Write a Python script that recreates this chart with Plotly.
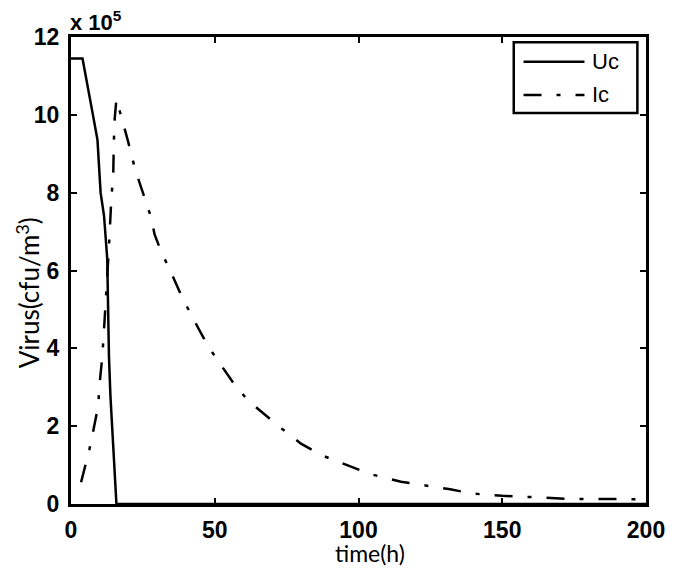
import plotly.graph_objects as go

# values, virus in units of 1e5 cfu/m^3
uc_t = [0, 4, 7.5, 9.2, 10.3, 11.5, 12.6, 13.2, 13.7, 15.1, 15.8, 16.5, 50, 100, 150, 200]
uc_v = [11.45, 11.45, 10.05, 9.36, 8.0, 7.4, 6.3, 3.8, 2.8, 0.7, 0.0, 0.0, 0.0, 0.0, 0.0, 0.0]

ic_t = [3.5, 6.4, 7.8, 9.4, 10.1, 10.9, 11.5, 12.0, 12.8, 13.2, 14.0, 14.7, 14.9, 15.2, 15.8,
        17.7, 19.7, 22.3, 25.1, 27.7, 29.1, 31.3, 35.9, 38.7, 44.2, 47.8, 56, 61.4, 72.2,
        80, 87.6, 97.8, 104, 114.8, 121.6, 131.9, 139.2, 150, 163, 172.7, 189.8, 200]
ic_v = [0.56, 1.4, 1.9, 2.5, 3.2, 3.8, 4.5, 5.1, 6.0, 6.6, 7.8, 8.5, 9.3, 9.9, 10.4,
        9.9, 9.36, 8.6, 8.0, 7.4, 6.92, 6.5, 5.77, 5.3, 4.53, 4.04, 3.16, 2.67, 2.0,
        1.55, 1.24, 0.94, 0.77, 0.57, 0.49, 0.38, 0.27, 0.21, 0.17, 0.13, 0.13, 0.12]

x_ticks = [0, 50, 100, 150, 200]
y_ticks = [0, 2, 4, 6, 8, 10, 12]

names = ["Uc", "Ic"]
solid = dict(color="black", width=2.5)
dashdot = dict(color="black", width=2.5, dash="18px,15px,4px,15px")

fig = go.Figure()
fig.add_trace(go.Scatter(x=uc_t, y=uc_v, mode="lines", name=names[0], line=solid,
                         showlegend=False))
fig.add_trace(go.Scatter(x=ic_t, y=ic_v, mode="lines", name=names[1], line=dashdot,
                         showlegend=False))

axis = dict(showline=True, linecolor="black", linewidth=3, mirror="ticks",
            ticks="inside", ticklen=6, tickwidth=2, tickcolor="black",
            showgrid=False, zeroline=False,
            tickfont=dict(family="Liberation Sans", size=23, color="black", weight="bold"))

fig.update_xaxes(range=[0, 200], tickvals=x_ticks, ticklabelstandoff=3, **axis)
fig.update_yaxes(range=[0, 12], tickvals=y_ticks, ticklabelstandoff=4, **axis)

fig.add_annotation(text="time(h)", xref="paper", yref="paper", x=0.52, y=-0.105,
                   xanchor="center", yanchor="middle", showarrow=False,
                   font=dict(family="Lato", size=23, color="black"))
fig.add_annotation(text="Virus(cfu/m<sup>3</sup>)", xref="paper", yref="paper",
                   x=-0.074, y=0.452, textangle=-90, xanchor="center", yanchor="middle",
                   showarrow=False, font=dict(family="Lato", size=26, color="black"))
fig.add_annotation(text="x 10<sup>5</sup>", xref="paper", yref="paper", x=-0.006, y=1.0,
                   xanchor="left", yanchor="bottom", showarrow=False,
                   font=dict(family="Liberation Sans", size=22, color="black", weight="bold"))

# hand-drawn legend box, MATLAB style with long line samples
fig.add_shape(type="rect", xref="paper", yref="paper", x0=0.770, x1=0.985, y0=0.837, y1=0.989,
              line=dict(color="black", width=2.5), fillcolor="white", layer="above")
for name, style, yy in zip(names, [solid, dashdot], [0.947, 0.876]):
    fig.add_shape(type="line", xref="paper", yref="paper", x0=0.787, x1=0.893, y0=yy, y1=yy,
                  line=style, layer="above")
    fig.add_annotation(text=name, xref="paper", yref="paper", x=0.902, y=yy,
                       xanchor="left", yanchor="middle", showarrow=False,
                       font=dict(family="Liberation Sans", size=22, color="black"))

# page body adds 8px on every side, so the figure is 16px smaller than the window
fig.update_layout(
    width=669, height=561,
    margin=dict(l=63, r=23, t=29, b=65),
    plot_bgcolor="white", paper_bgcolor="white",
)

fig.write_html("out.html")
